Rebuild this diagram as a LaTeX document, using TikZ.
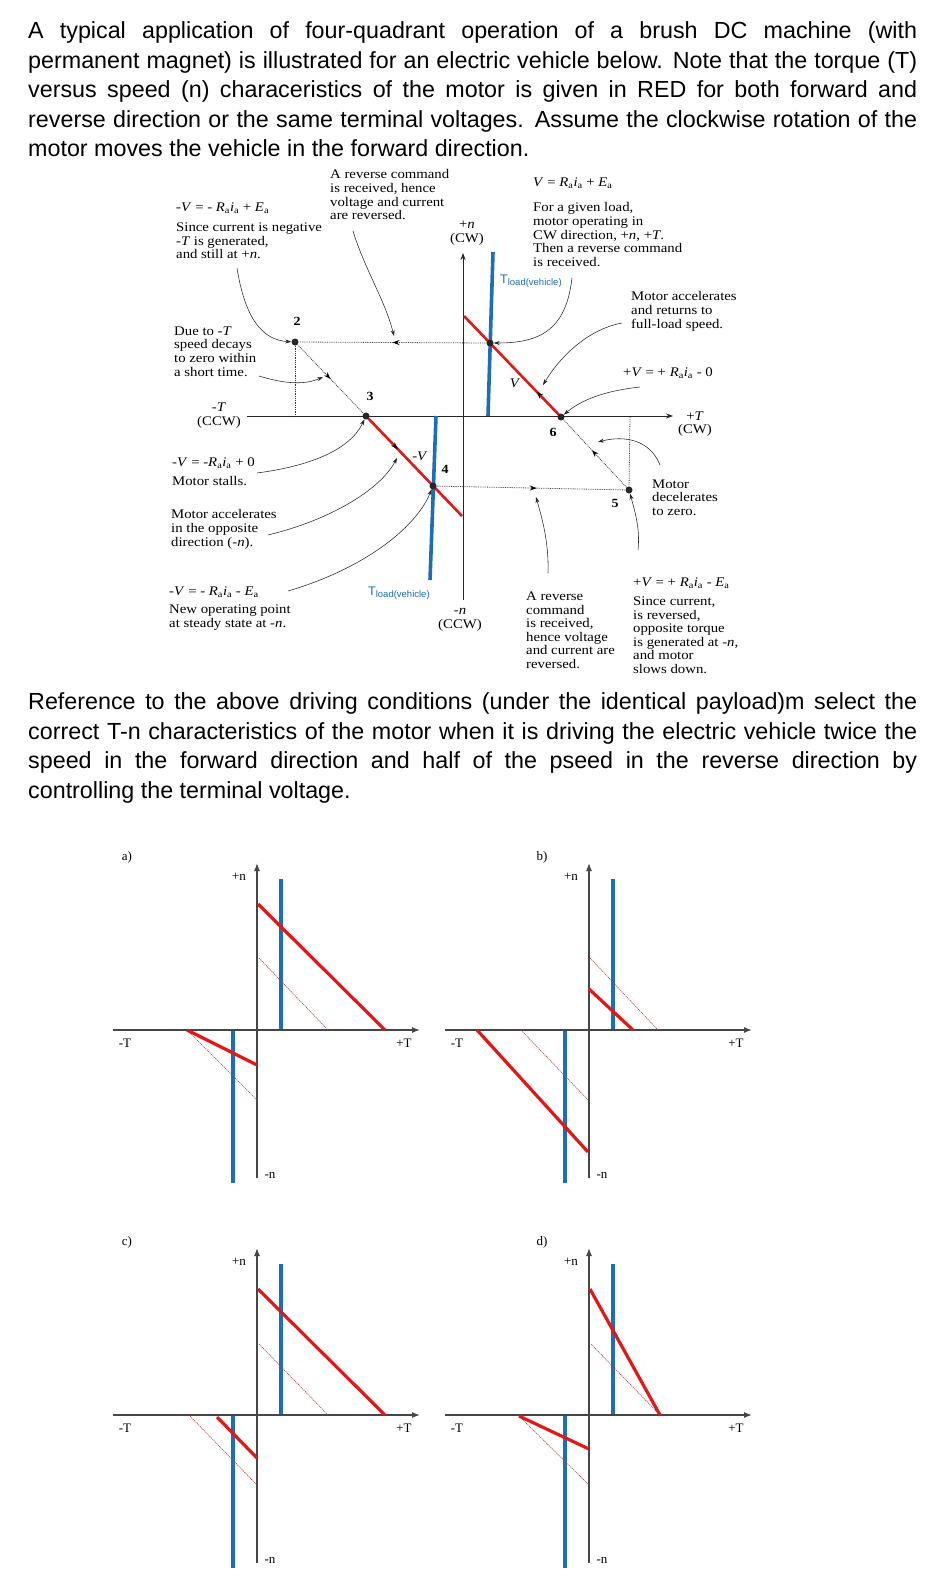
\documentclass[tikz,border=0pt]{standalone}
\usepackage{fontspec}
\newfontfamily\arialf{Liberation Sans}
\newfontfamily\labfont{Liberation Serif}[FakeStretch=1.12]
\newfontfamily\gfont{Liberation Serif}
\usetikzlibrary{arrows.meta,decorations.markings}
\definecolor{vred}{RGB}{226,24,24}
\definecolor{vblue}{RGB}{30,110,182}
\definecolor{thinred}{RGB}{190,60,60}
\definecolor{axgray}{RGB}{70,70,70}
\newcommand\Ria{\textit{R}\textsubscript{a}\textit{i}\textsubscript{a}}
\newcommand\Ea{\textit{E}\textsubscript{a}}
\newcommand\Tload{{\arialf\fontsize{12.5}{13}\selectfont T\raisebox{-1.5pt}{\fontsize{9.5}{10}\selectfont load(vehicle)}}}
\tikzset{
  para/.style={anchor=north west, inner sep=0pt, text width=889pt, align=justify,
    font=\arialf\fontsize{23.3}{29.5}\selectfont},
  lab/.style={anchor=north west, inner sep=0pt, align=left,
    font=\labfont\fontsize{13.2}{13.6}\selectfont},
  labc/.style={lab, anchor=center, align=center},
  num/.style={inner sep=0pt, font=\labfont\bfseries\fontsize{12.5}{12.5}\selectfont},
  dot/.style={circle, fill=black!85, inner sep=0pt, minimum size=7pt},
  axisline/.style={line width=0.7pt, black!85, -{Stealth[length=7pt,width=5pt]}},
  dotline/.style={densely dotted, line width=0.8pt, black!80},
  midarrow/.style={postaction={decorate,decoration={markings,
    mark=at position #1 with {\arrow[black]{Stealth[length=7pt,width=5pt]}}}}},
  leader/.style={line width=0.55pt, black!85, -{Stealth[length=6pt,width=4pt]}},
  redline/.style={line width=2.6pt, vred},
  blueline/.style={line width=3.6pt, vblue},
  gaxis/.style={line width=1.2pt, axgray, -{Latex[length=8pt,width=6pt]}},
  gblue/.style={line width=3.2pt, vblue},
  gred/.style={line width=3.2pt, vred},
  gthin/.style={line width=0.6pt, thinred, dash pattern=on 1.2pt off 0.8pt},
  glab/.style={inner sep=0pt, font=\gfont\fontsize{13}{13}\selectfont},
}
\newcommand\qframe[3]{%
  \draw[gblue] (24,-151) -- (24,0);
  \draw[gblue] (-24,0) -- (-24,153);
  \draw[gaxis] (-144,0) -- (163,0);
  \draw[gaxis] (0,148) -- (0,-167);
  \node[glab] (#1lab) at (#3,-173) {#2};
  \node[glab] (#1mT) at (-132,13) {-T};
  \node[glab] (#1pT) at (147,13) {+T};
  \node[glab] (#1pn) at (-18,-153) {+n};
  \node[glab] (#1mn) at (13,145) {-n};
}
\begin{document}
\begin{tikzpicture}[x=1pt,y=-1pt]
\fill[white, use as bounding box] (0,0) rectangle (941,1591);

% ---------------- paragraphs ----------------
\node[para] (par1) at (28,21.5) {\tolerance=10000 A typical application of four-quadrant operation of a brush DC machine (with\linebreak
permanent magnet) is illustrated for an electric vehicle below. Note that the torque (T)\linebreak
versus speed (n) characeristics of the motor is given in RED for both forward and\linebreak
reverse direction or the same terminal voltages. Assume the clockwise rotation of the\linebreak
motor moves the vehicle in the forward direction.};

\node[para] (par2) at (28,692.5) {\tolerance=10000 Reference to the above driving conditions (under the identical payload)m select the\linebreak
correct T-n characteristics of the motor when it is driving the electric vehicle twice the\linebreak
speed in the forward direction and half of the pseed in the reverse direction by\linebreak
controlling the terminal voltage.};

% ---------------- top diagram ----------------
\coordinate (c1) at (490,343);
\coordinate (c2) at (295,342);
\coordinate (c3) at (366,416);
\coordinate (c4) at (433,486);
\coordinate (c5) at (629,490);
\coordinate (c6) at (561,417);

\draw[axisline] (247,416) -- (673,416);
\draw[axisline] (463,600) -- (463,253);

\draw[redline] (464,316) -- (c6);
\draw[redline] (c3) -- (462,516);
\draw[blueline] (493,252) -- (488,416);
\draw[blueline] (436,416) -- (430,580);
% arrows on red lines
\path[midarrow=0.25] (c6) -- (464,316);
\path[midarrow=0.33] (c3) -- (462,516);

\node[dot] (p1) at (c1) {};
\node[dot] (p2) at (c2) {};
\node[dot] (p3) at (c3) {};
\node[dot] (p4) at (c4) {};
\node[dot] (p5) at (c5) {};
\node[dot] (p6) at (c6) {};

\draw[dotline, midarrow=0.5] (p1) -- (p2);
\draw[dotline, midarrow=0.5] (p2) -- (p3);
\draw[dotline] (p2) -- (295,416);
\draw[dotline, midarrow=0.53] (p4) -- (p5);
\draw[dotline, midarrow=0.55] (p5) -- (p6);
\draw[dotline] (p5) -- (630,416);

\node[num] (n2) at (297,321) {2};
\node[num] (n3) at (370,396) {3};
\node[num] (n4) at (445,469) {4};
\node[num] (n5) at (615,503) {5};
\node[num] (n6) at (553,432) {6};

% labels
\node[lab] (aeq) at (176,202.5) {-\textit{V} = - \Ria{} + \Ea};
\node[lab] (atx) at (176,222.5) {Since current is negative\\-\textit{T} is generated,\\and still at +\textit{n}.};
\node[lab] (btx) at (330,169.5) {A reverse command\\is received, hence\\voltage and current\\are reversed.};
\node[lab] (ceq) at (533,177.5) {\textit{V} = \Ria{} + \Ea};
\node[lab] (ctx) at (533,202.5) {For a given load,\\motor operating in\\CW direction, +\textit{n}, +\textit{T}.\\Then a reverse command\\is received.};
\node[labc] (pn) at (467,233) {+\textit{n}\\(CW)};
\node[anchor=west, inner sep=0pt, text=vblue] (tl1) at (500,281) {\Tload};
\node[lab] (ftx) at (174,326.5) {Due to -\textit{T}\\speed decays\\to zero within\\a short time.};
\node[labc] (mT) at (219,415.5) {-\textit{T}\\(CCW)};
\node[lab] (itx) at (631,291.5) {Motor accelerates\\and returns to\\full-load speed.};
\node[lab] (jeq) at (623,367.5) {+\textit{V} = + \Ria{} - 0};
\node[labc] (pT) at (695,424) {+\textit{T}\\(CW)};
\node[labc] (vV) at (515,383) {\textit{V}};
\node[labc] (vmV) at (420,456) {-\textit{V}};
\node[lab] (mtx) at (652,479.5) {Motor\\decelerates\\to zero.};
\node[lab] (neq) at (172,457.5) {-\textit{V} = -\Ria{} + 0};
\node[lab] (ntx) at (172,476.5) {Motor stalls.};
\node[lab] (otx) at (171,509.5) {Motor accelerates\\in the opposite\\direction (-\textit{n}).};
\node[lab] (peq) at (169,586.5) {-\textit{V} = - \Ria{} - \Ea};
\node[lab] (ptx) at (169,604.5) {New operating point\\at steady state at -\textit{n}.};
\node[anchor=west, inner sep=0pt, text=vblue] (tl2) at (368,593) {\Tload};
\node[labc] (mn) at (460,620) {-\textit{n}\\(CCW)};
\node[lab] (stx) at (526,591.5) {A reverse\\command\\is received,\\hence voltage\\and current are\\reversed.};
\node[lab] (teq) at (633,577.5) {+\textit{V} = + \Ria{} - \Ea};
\node[lab] (ttx) at (633,596.5) {Since current,\\is reversed,\\opposite torque\\is generated at -\textit{n},\\and motor\\slows down.};

% leaders
\draw[leader] (237,268) .. controls (245,318) and (262,340) .. (p2);
\draw[leader] (353,231) .. controls (365,270) and (385,300) .. (394,336);
\draw[leader] (259,376) .. controls (285,384) and (305,385) .. (323,377);
\draw[leader] (572,278) .. controls (566,330) and (540,343) .. (p1);
\draw[leader] (622,323) .. controls (585,330) and (558,360) .. (543,385);
\draw[leader] (640,387) .. controls (612,390) and (585,397) .. (p6);
\draw[leader] (660,465) .. controls (650,440) and (625,435) .. (598,442);
\draw[leader] (548,573) .. controls (549,540) and (541,515) .. (536,497);
\draw[leader] (638,550) .. controls (640,530) and (636,515) .. (p5);
\draw[leader] (257,473) .. controls (310,466) and (350,450) .. (p3);
\draw[leader] (268,535) .. controls (330,520) and (380,490) .. (397,458);
\draw[leader] (288,591) .. controls (360,570) and (415,530) .. (p4);

% ---------------- graph a ----------------
\begin{scope}[shift={(257,1030)}]
  \qframe{ga}{a)}{-130}
  \draw[gthin] (2,-72) -- (71,0);
  \draw[gthin] (-70,0) -- (0,70);
  \draw[gred] (1,-126) -- (128,0);
  \draw[gred] (-70,0) -- (0,35);
\end{scope}
% ---------------- graph b ----------------
\begin{scope}[shift={(589,1030)}]
  \qframe{gb}{b)}{-47}
  \draw[gthin] (1,-72) -- (69,0);
  \draw[gthin] (-68,0) -- (-1,70);
  \draw[gred] (0,-41) -- (44,0);
  \draw[gred] (-112,0) -- (-1,122);
\end{scope}
% ---------------- graph c ----------------
\begin{scope}[shift={(257,1415)}]
  \qframe{gc}{c)}{-130}
  \draw[gthin] (2,-71) -- (71,0);
  \draw[gthin] (-67,1) -- (0,70);
  \draw[gred] (1,-126) -- (128,0);
  \draw[gred] (-40,2) -- (0,43);
\end{scope}
% ---------------- graph d ----------------
\begin{scope}[shift={(589,1415)}]
  \qframe{gd}{d)}{-47}
  \draw[gthin] (2,-71) -- (71,0);
  \draw[gthin] (-70,1) -- (0,70);
  \draw[gred] (1,-126) -- (71,0);
  \draw[gred] (-70,1) -- (0,34);
\end{scope}
\end{tikzpicture}
\end{document}
